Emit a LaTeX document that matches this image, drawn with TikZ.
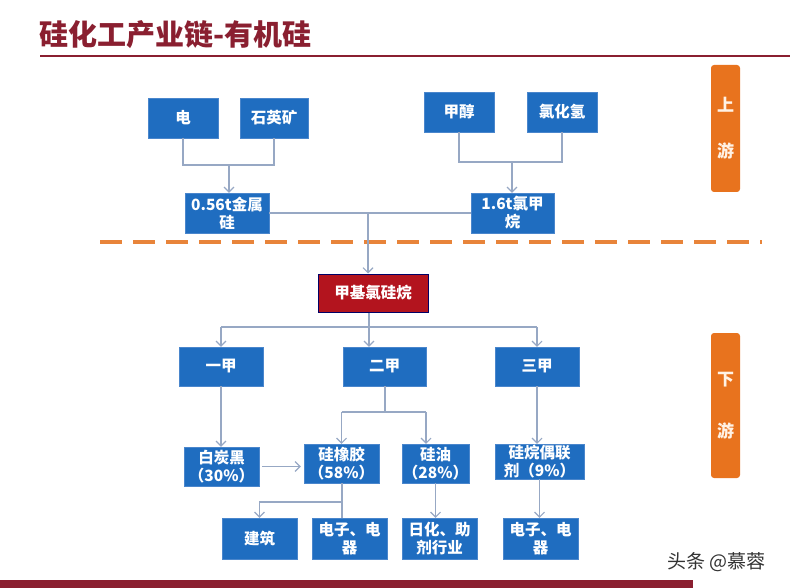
\documentclass[tikz,border=0pt]{standalone}
\usepackage{fontspec}
\setmainfont{Noto Sans CJK SC}
\usepackage{tikz}
\usetikzlibrary{calc,arrows.meta}

\definecolor{boxblue}{HTML}{1F6DC0}
\definecolor{boxedge}{HTML}{4A86CC}
\definecolor{linkgray}{HTML}{97A8C4}
\definecolor{titlered}{HTML}{8A1F30}
\definecolor{hubred}{HTML}{B3141E}
\definecolor{sideorange}{HTML}{E8731E}
\definecolor{dashorange}{HTML}{E8843A}

\tikzset{
	chainbox/.style={draw=boxedge, fill=boxblue, text=white, font=\bfseries\fontsize{15.5}{18}\selectfont, align=center, inner sep=0pt},
	hubbox/.style={draw=black!60!blue, fill=hubred, text=white, line width=1pt, font=\bfseries\fontsize{15.5}{18}\selectfont},
	sidebox/.style={fill=sideorange, rounded corners=3pt, text=orange!10, font=\bfseries\fontsize{17}{19}\selectfont, align=center},
	link/.style={draw=linkgray, line width=1.1pt},
	linkarrow/.style={link, -{Straight Barb[length=5pt,width=10pt]}}
}

\begin{document}
\begin{tikzpicture}[x=1pt,y=-1pt]
				\useasboundingbox (0,0) rectangle (790,588);
				\node[anchor=west, text=titlered, font=\bfseries\fontsize{29}{31}\selectfont] (title) at (36,35) {硅化工产业链-有机硅};
				\draw[titlered, line width=2pt] (40,56) -- (790,56);
				\fill[titlered] (0,580) rectangle (693,588);
				\draw[dashorange, line width=4pt, dash pattern=on 22pt off 11pt] (100,242) -- (762,242);
				\node[sidebox, minimum width=29pt, minimum height=127pt] (shangyou) at (725.5,128.5) {上\\[27pt]游};
				\node[sidebox, minimum width=29pt, minimum height=145pt] (xiayou) at (725.5,405.5) {下\\[33pt]游};
				\node[chainbox, minimum width=70pt, minimum height=40pt] (dian) at (183,118) {电};
				\node[chainbox, minimum width=68pt, minimum height=40pt] (shiying) at (274,118) {石英矿};
				\node[chainbox, minimum width=70pt, minimum height=40pt] (jiachun) at (459,112) {甲醇};
				\node[chainbox, minimum width=70pt, minimum height=40pt] (lvhuaqing) at (562,112) {氯化氢};
				\node[chainbox, minimum width=84pt, minimum height=40pt] (jinshugui) at (227,213) {0.56t金属\\硅};
				\node[chainbox, minimum width=83pt, minimum height=40pt] (lvjiawan) at (512.5,213) {1.6t氯甲\\烷};
				\node[hubbox, minimum width=110pt, minimum height=38pt] (jjlgw) at (373,293) {甲基氯硅烷};
				\node[chainbox, minimum width=84pt, minimum height=39pt] (yijia) at (221,366.5) {一甲};
				\node[chainbox, minimum width=83pt, minimum height=39pt] (erjia) at (384.5,366.5) {二甲};
				\node[chainbox, minimum width=84pt, minimum height=39pt] (sanjia) at (537,366.5) {三甲};
				\node[chainbox, minimum width=75pt, minimum height=39pt] (baitanhei) at (221.5,466.5) {白炭黑\\（30\%）};
				\node[chainbox, minimum width=75pt, minimum height=39pt] (xiangjiao) at (341.5,463.5) {硅橡胶\\（58\%）};
				\node[chainbox, minimum width=67pt, minimum height=39pt] (guiyou) at (435.5,463.5) {硅油\\（28\%）};
				\node[chainbox, minimum width=89pt, minimum height=35pt] (oulianji) at (539.5,461.5) {硅烷偶联\\剂（9\%）};
				\node[chainbox, minimum width=75pt, minimum height=41pt] (jianzhu) at (259.5,538.5) {建筑};
				\node[chainbox, minimum width=75pt, minimum height=41pt] (dianzi) at (349.5,538.5) {电子、电\\器};
				\node[chainbox, minimum width=75pt, minimum height=41pt] (rihua) at (439.5,538.5) {日化、助\\剂行业};
				\node[chainbox, minimum width=75pt, minimum height=41pt] (dianzib) at (540.5,538.5) {电子、电\\器};
				\node[anchor=west, text=black!80, font=\fontsize{19}{21}\selectfont] (mark) at (664,562) {头条 @慕蓉};
				\coordinate (j1) at (229,165);
				\coordinate (j2) at (512,162);
				\coordinate (j3) at (368,213);
				\coordinate (j4) at (369,327);
				\coordinate (j5) at (385,412);
				\coordinate (j5b) at (426,412);
				\coordinate (j6) at (342,502);
				\draw[link] (dian.south) -- (dian.south |- j1) -- (shiying.south |- j1) -- (shiying.south);
				\draw[linkarrow] (j1) -- (j1 |- jinshugui.north);
				\draw[link] (jiachun.south) -- (jiachun.south |- j2) -- (lvhuaqing.south |- j2) -- (lvhuaqing.south);
				\draw[linkarrow] (j2) -- (j2 |- lvjiawan.north);
				\draw[link] (jinshugui.east) -- (lvjiawan.west);
				\draw[linkarrow] (j3) -- (j3 |- jjlgw.north);
				\draw[link] (j4 |- jjlgw.south) -- (j4);
				\draw[link] (yijia.north |- j4) -- (sanjia.north |- j4);
				\draw[linkarrow] (yijia.north |- j4) -- (yijia.north);
				\draw[linkarrow] (j4) -- (j4 |- erjia.north);
				\draw[linkarrow] (sanjia.north |- j4) -- (sanjia.north);
				\draw[linkarrow] (yijia.south) -- (yijia.south |- baitanhei.north);
				\draw[link] (j5 |- erjia.south) -- (j5);
				\draw[link] (xiangjiao.north |- j5) -- (j5b);
				\draw[linkarrow] (xiangjiao.north |- j5) -- (xiangjiao.north);
				\draw[linkarrow] (j5b) -- (j5b |- guiyou.north);
				\draw[linkarrow] (sanjia.south) -- (sanjia.south |- oulianji.north);
				\draw[linkarrow, shorten <=3pt, shorten >=3pt] (baitanhei.east) -- (baitanhei.east -| xiangjiao.west);
				\draw[link] (j6 |- xiangjiao.south) -- (j6) -- (j6 |- dianzi.north);
				\draw[linkarrow] (j6) -- (jianzhu.north |- j6) -- (jianzhu.north);
				\draw[linkarrow] (guiyou.south) -- (guiyou.south |- rihua.north);
				\draw[linkarrow] (oulianji.south) -- (oulianji.south |- dianzib.north);
			\end{tikzpicture}
\end{document}
